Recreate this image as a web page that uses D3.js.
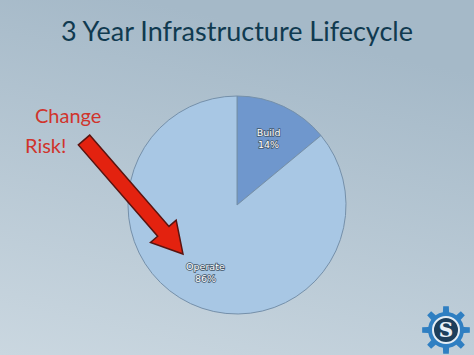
<!DOCTYPE html>
<html lang="en">
  <head>
    <meta charset="utf-8" />
    <title>3 Year Infrastructure Lifecycle</title>
    <script src="https://d3js.org/d3.v7.min.js"></script>
    <style>
      body { margin: 0; overflow: hidden; }
      svg { display: block; }
    </style>
  </head>
  <body>
    <div id="chart"></div>
    <script>
      // data
      const phases = ["Build", "Operate"];
      const shares = [14, 86];
      const sliceColors = ["#6f97cd", "#a8c7e4"];

      const W = 474, H = 355;
      const cx = 237, cy = 205, r = 109;

      const svg = d3.select("#chart").append("svg")
        .attr("width", W).attr("height", H);

      const defs = svg.append("defs");
      const bg = defs.append("linearGradient").attr("id", "bg")
        .attr("x1", "0.3").attr("y1", "0").attr("x2", "0").attr("y2", "1");
      bg.append("stop").attr("offset", "0%").attr("stop-color", "#a5b9c8");
      bg.append("stop").attr("offset", "100%").attr("stop-color", "#cad7e0");

      svg.append("rect").attr("width", W).attr("height", H).attr("fill", "url(#bg)");

      // title
      svg.append("text")
        .attr("x", cx).attr("y", 41)
        .attr("text-anchor", "middle")
        .style("font-family", "Lato, sans-serif")
        .style("font-size", "27px")
        .style("fill", "#103a50")
        .text("3 Year Infrastructure Lifecycle");

      // pie
      const data = phases.map((p, i) => ({ phase: p, value: shares[i], color: sliceColors[i] }));
      const pie = d3.pie().sort(null).value(d => d.value);
      const arc = d3.arc().innerRadius(0).outerRadius(r);
      const labelArc = d3.arc().innerRadius(r * 0.68).outerRadius(r * 0.68);

      const g = svg.append("g").attr("transform", `translate(${cx},${cy})`);
      const arcs = pie(data);

      g.selectAll("path.slice")
        .data(arcs)
        .join("path")
        .attr("class", "slice")
        .attr("d", arc)
        .attr("fill", d => d.data.color)
        .attr("stroke", "#7590aa")
        .attr("stroke-width", 1);

      const lbl = g.selectAll("text.lbl")
        .data(arcs)
        .join("text")
        .attr("class", "lbl")
        .attr("transform", d => `translate(${labelArc.centroid(d)})`)
        .attr("text-anchor", "middle")
        .style("font-family", "'DejaVu Sans', sans-serif")
        .style("font-size", "9.5px")
        .style("fill", "#ffffff")
        .style("stroke", "#44586b")
        .style("stroke-width", 1.5)
        .style("paint-order", "stroke");
      lbl.append("tspan").attr("x", 0).attr("dy", "-0.25em").text(d => d.data.phase);
      lbl.append("tspan").attr("x", 0).attr("dy", "1.3em").text(d => d.data.value + "%");

      // annotation
      const ann = svg.append("g")
        .style("font-family", "Lato, sans-serif")
        .style("font-size", "20px")
        .style("fill", "#d0342c");
      ann.append("text").attr("x", 35).attr("y", 123).text("Change");
      ann.append("text").attr("x", 25).attr("y", 153).text("Risk!");

      // arrow from annotation toward the operate slice
      const x0 = 84, y0 = 140, x1 = 183, y1 = 254;
      const ang = Math.atan2(y1 - y0, x1 - x0);
      const len = Math.hypot(x1 - x0, y1 - y0);
      const shaftW = 7.5, headW = 17, headL = 30;
      const arrowPts = [
        [0, -shaftW], [len - headL, -shaftW], [len - headL, -headW],
        [len, 0], [len - headL, headW], [len - headL, shaftW], [0, shaftW]
      ];
      svg.append("path")
        .attr("transform", `translate(${x0},${y0}) rotate(${ang * 180 / Math.PI})`)
        .attr("d", d3.line()(arrowPts) + "Z")
        .attr("fill", "#e3220f")
        .attr("stroke", "#5a1410")
        .attr("stroke-width", 1.5)
        .attr("stroke-linejoin", "miter");

      // logo gear
      const lg = svg.append("g").attr("transform", "translate(446,330)");
      const teeth = 8, ro = 24, ri = 18;
      const gearPts = [];
      for (let i = 0; i < teeth; i++) {
        const a = (i / teeth) * 2 * Math.PI;
        const step = (2 * Math.PI) / teeth;
        [[-0.22, ri], [-0.15, ro], [0.15, ro], [0.22, ri], [0.5, ri]].forEach(([f, rr]) => {
          const t = a + f * step;
          gearPts.push([rr * Math.sin(t), -rr * Math.cos(t)]);
        });
      }
      lg.append("path").attr("d", d3.line().curve(d3.curveLinearClosed)(gearPts))
        .attr("fill", "#2f7fc2");
      lg.append("circle").attr("r", 13).attr("fill", "#1d3f5c").attr("stroke", "#e6eef5").attr("stroke-width", 2);
      lg.append("text").attr("y", 7).attr("text-anchor", "middle")
        .style("font-family", "'DejaVu Serif', serif").style("font-size", "20px")
        .style("font-weight", "bold").style("fill", "#e8f0f7").text("S");
    </script>
  </body>
</html>
